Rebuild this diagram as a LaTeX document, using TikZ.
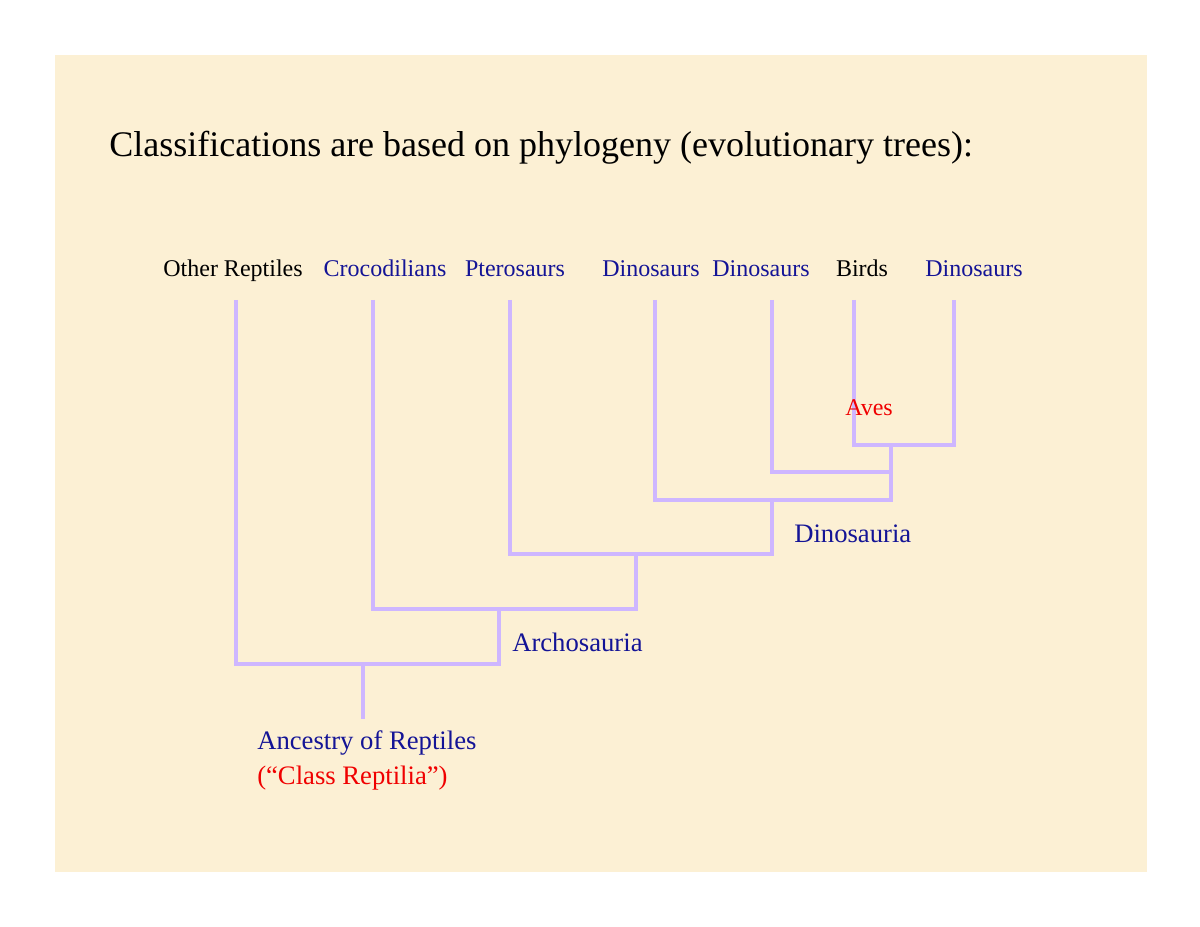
\documentclass[tikz,border=0pt]{standalone}
\usepackage{fontspec}
\setmainfont{Liberation Serif}
\definecolor{slidebg}{RGB}{252,240,212}
\definecolor{branchcol}{RGB}{206,182,255}
\definecolor{labblue}{RGB}{20,20,150}
\definecolor{labred}{RGB}{240,0,0}
\begin{document}
\begin{tikzpicture}[x=0.75pt,y=-0.75pt,
  branch/.style={draw=branchcol,line width=3pt,line join=miter},
  toplab/.style={anchor=base,inner sep=0pt,font=\fontsize{18}{21}\selectfont},
  biglab/.style={inner sep=0pt,font=\fontsize{20}{24}\selectfont,text=labblue}]
\useasboundingbox (0,0) rectangle (1200,927);
\fill[white] (0,0) rectangle (1200,927);
\fill[slidebg] (55,55) rectangle (1147,872);
% title
\node[anchor=base west,inner sep=0pt,font=\fontsize{27}{32}\selectfont] (title) at (109,157)
  {Classifications are based on phylogeny (evolutionary trees):};
% tip labels
\node[toplab] (l1) at (233,277) {Other Reptiles};
\node[toplab,text=labblue] (l2) at (385,277) {Crocodilians};
\node[toplab,text=labblue] (l3) at (515,277) {Pterosaurs};
\node[toplab,text=labblue] (l4) at (651,277) {Dinosaurs};
\node[toplab,text=labblue] (l5) at (761,277) {Dinosaurs};
\node[toplab] (l6) at (862,277) {Birds};
\node[toplab,text=labblue] (l7) at (974,277) {Dinosaurs};
% tips
\coordinate (t1) at (236,300);
\coordinate (t2) at (373,300);
\coordinate (t3) at (510,300);
\coordinate (t4) at (655,300);
\coordinate (t5) at (772,300);
\coordinate (t6) at (854,300);
\coordinate (t7) at (954,300);
% junctions
\coordinate (j1) at (891,445);
\coordinate (j2) at (891,472);
\coordinate (j3) at (772,500);
\coordinate (j4) at (636,554);
\coordinate (j5) at (499,609);
\coordinate (j6) at (363,664);
\coordinate (root) at (363,719);
% branches
\draw[branch] (t6) |- (j1) -| (t7);
\draw[branch] (t5) |- (j2);
\draw[branch] (t4) |- (j3) -| (j1);
\draw[branch] (t3) |- (j4) -| (j3);
\draw[branch] (t2) |- (j5) -| (j4);
\draw[branch] (t1) |- (j6) -| (j5);
\draw[branch] (j6) -- (root);
% clade labels
\node[toplab,anchor=base west,text=labred] (aves) at (845,416) {Aves};
\node[biglab,anchor=base west] (dino) at (794,542) {Dinosauria};
\node[biglab,anchor=base west] (arch) at (512,651) {Archosauria};
\node[biglab,anchor=base west] (anc) at (257,749) {Ancestry of Reptiles};
\node[biglab,anchor=base west,text=labred] (cls) at (257,784) {(“Class Reptilia”)};
\end{tikzpicture}
\end{document}
